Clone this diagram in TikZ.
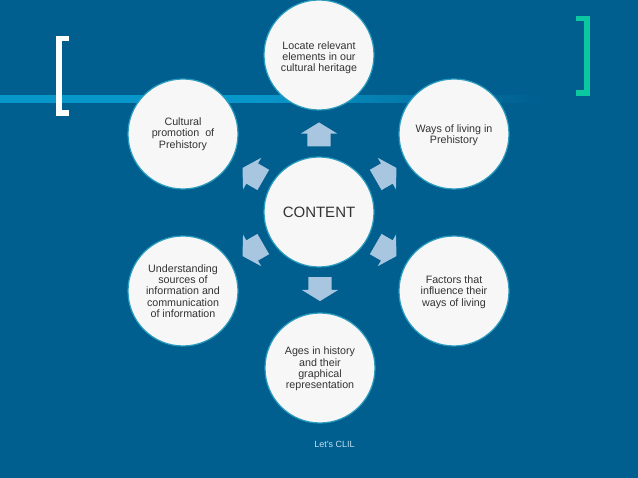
\documentclass[tikz,border=0pt]{standalone}
\usepackage{fontspec}
\setmainfont{Liberation Sans}
\usetikzlibrary{shapes.arrows}
\definecolor{bgblue}{HTML}{005F8F}
\definecolor{barblue}{HTML}{0897CB}
\definecolor{ringblue}{HTML}{2A9CBE}
\definecolor{discgray}{HTML}{F7F7F8}
\definecolor{arrowblue}{HTML}{A9C6E0}
\definecolor{bracketgreen}{HTML}{0CC8A0}
\definecolor{textgray}{HTML}{333333}
\definecolor{footerblue}{HTML}{BFE0F5}
\pgfdeclarehorizontalshading{barfade}{100bp}{color(0bp)=(barblue); color(49bp)=(barblue); color(75bp)=(bgblue); color(100bp)=(bgblue)}
\newcommand{\lift}[1]{\rule{0pt}{#1}}
\tikzset{
  disc/.style={circle, draw=ringblue, line width=1.2pt, fill=discgray, minimum size=110pt, inner sep=0pt,
    align=center, text=textgray, font=\fontsize{10.7}{11.3}\selectfont},
  spoke/.style={single arrow, fill=arrowblue, draw=none, inner sep=0pt, text height=23pt, text depth=0pt,
    minimum height=24pt, single arrow head extend=6.5pt, single arrow tip angle=117},
  bracketline/.style={line width=5.5pt, line cap=butt, miter limit=10}
}
\begin{document}
\begin{tikzpicture}[x=1pt, y=-1pt]
   \fill[bgblue] (0,0) rectangle (638,478);
   \useasboundingbox (0,0) rectangle (638,478);
   % bar behind the discs
   \shade[shading=barfade] (0,96) rectangle (540,103);
   % brackets
   \draw[bracketline, white] (69,38.75) -- (59,38.75) -- (59,113.25) -- (69,113.25);
   \draw[bracketline, bracketgreen] (576,18.75) -- (587,18.75) -- (587,93.25) -- (576,93.25);
   % arrows
   \node[spoke, rotate=90] (up) at (319,138) {};
   \node[spoke, rotate=30] (upright) at (383,175.75) {};
   \node[spoke, rotate=-30] (downright) at (383,248.25) {};
   \node[spoke, rotate=-90] (down) at (320,285.5) {};
   \node[spoke, rotate=210] (downleft) at (256,248.25) {};
   \node[spoke, rotate=150] (upleft) at (256,175.75) {};
   % discs
   \node[disc, font=\fontsize{15}{17}\selectfont] (content) at (319,212) {CONTENT};
   \node[disc] (locate) at (319,55) {\lift{13pt}Locate relevant\\elements in our\\cultural heritage};
   \node[disc] (ways) at (454,134) {\lift{10pt}Ways of living in\\Prehistory};
   \node[disc] (factors) at (454,291) {\lift{10pt}Factors that\\influence their\\ways of living};
   \node[disc] (ages) at (320,368) {\lift{10pt}Ages in history\\and their\\graphical\\representation};
   \node[disc] (sources) at (183,291) {Understanding\\sources of\\information and\\communication\\of information};
   \node[disc] (promotion) at (183,134) {Cultural\\promotion\ \ of\\Prehistory};
   \node[text=footerblue, font=\fontsize{9}{11}\selectfont] (footer) at (334.5,444) {Let's CLIL};
\end{tikzpicture}
\end{document}
